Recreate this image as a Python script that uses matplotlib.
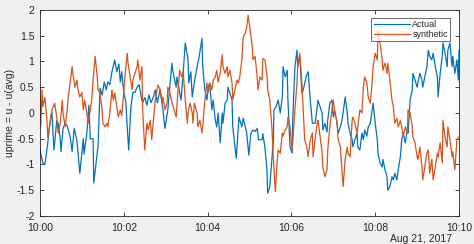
import matplotlib.pyplot as plt

# seconds after 10:00 and values
t_actual = [0, 1, 4, 7, 11, 14, 17, 20, 24, 26, 29, 30, 33, 36, 39, 43, 46, 49, 53, 57,
            62, 63, 67, 70, 72, 76, 77, 83, 84, 86, 89, 92, 95, 97, 100, 103, 107, 110, 113, 115,
            117, 120, 123, 125, 127, 130, 133, 136, 139, 142, 145, 147, 150, 153, 156, 159, 162, 165, 168, 172,
            176, 179, 183, 186, 189, 190, 195, 196, 198, 202, 205, 208, 212, 213, 216, 218, 221, 225, 228, 232,
            233, 236, 239, 241, 243, 246, 248, 251, 253, 255, 258, 261, 262, 265, 268, 269, 272, 275, 276, 281,
            284, 285, 289, 291, 294, 296, 299, 302, 305, 308, 311, 313, 318, 319, 322, 325, 326, 329, 332, 334,
            335, 338, 341, 344, 347, 348, 351, 354, 355, 358, 361, 362, 365, 368, 369, 372, 375, 377, 381, 384,
            387, 390, 394, 397, 398, 401, 404, 405, 408, 411, 412, 415, 418, 420, 422, 425, 427, 430, 432, 434,
            437, 440, 441, 444, 447, 448, 451, 454, 455, 458, 461, 463, 465, 468, 470, 473, 475, 477, 480, 483,
            484, 487, 490, 491, 494, 497, 498, 501, 504, 506, 508, 511, 513, 516, 518, 520, 523, 526, 527, 530,
            533, 534, 537, 540, 541, 544, 547, 548, 551, 554, 556, 558, 561, 563, 566, 569, 570, 573, 576, 577,
            580, 583, 584, 587, 590, 591, 594, 597, 599, 600]
v_actual = [-0.68, -0.78, -0.97, -1.0, -0.6, -0.2, 0.02, -0.72, -0.15, -0.2, -0.5, -0.75, -0.3, -0.2, -0.25, -0.45, -0.75, -0.3, -0.55, -1.17,
            -0.5, -0.8, -0.4, 0.15, -0.5, -0.5, -1.36, -0.65, -0.3, 0.48, 0.35, 0.6, 0.45, 0.6, 0.55, 0.8, 1.03, 0.8, 0.95, 0.6,
            0.8, 0.4, 0.2, -0.3, -0.72, 0.1, 0.4, 0.4, 0.5, 0.55, 0.3, 0.2, 0.3, 0.15, 0.35, 0.2, 0.3, 0.45, 0.2, 0.45,
            0.06, -0.3, 0.06, 0.54, 0.97, 0.83, 0.5, 0.7, 0.55, 0.25, 0.77, 1.36, 1.03, 0.58, 0.8, 0.31, 0.6, 0.9, 1.1, 1.45,
            0.9, 0.45, 0.25, 0.5, 0.58, 0.06, 0.25, -0.14, -0.27, 0.0, -0.58, 0.0, -0.2, 0.19, 0.25, 0.5, 0.38, 0.25, -0.27, -0.88,
            -0.27, -0.08, -0.27, -0.1, -0.27, -0.39, -0.82, -0.39, -0.33, -0.36, -0.3, -0.52, -0.52, -0.4, -0.66, -1.1, -1.56, -1.43, -0.9, -0.58,
            0.06, 0.12, 0.25, 0.0, 0.31, 0.9, 0.7, 0.83, 0.25, -0.66, -0.78, -0.08, 0.9, 1.22, 0.9, 1.1, 0.39, 0.45, 0.7, 0.8,
            0.25, -0.2, -0.2, 0.12, 0.25, 0.12, 0.0, -0.33, -0.2, -0.37, -0.14, 0.19, 0.25, -0.08, 0.05, -0.17, -0.39, -0.27, -0.17, 0.0,
            0.31, 0.0, -0.2, -0.39, -0.52, -0.66, -0.52, -0.39, -0.66, -0.72, -0.39, -0.52, -0.33, -0.45, -0.27, -0.2, 0.0, 0.19, -0.2, -0.52,
            -0.78, -0.97, -1.05, -0.9, -1.1, -1.24, -1.5, -1.43, -1.24, -1.3, -1.17, -1.3, -1.1, -0.85, -0.52, -0.39, -0.58, -0.33, -0.39, 0.25,
            0.45, 0.77, 0.64, 0.5, 0.58, 0.77, 0.64, 0.5, 0.7, 0.9, 1.22, 1.1, 1.03, 1.16, 0.9, 0.7, 0.31, 0.77, 1.1, 1.36,
            1.16, 0.9, 1.22, 1.36, 0.9, 1.1, 0.77, 1.03, 0.64, 1.22]

t_synth = [0, 1, 3, 4, 7, 10, 11, 14, 17, 19, 21, 24, 26, 29, 32, 33, 36, 39, 40, 43,
           46, 47, 50, 53, 54, 57, 60, 62, 64, 67, 69, 72, 74, 76, 79, 82, 83, 86, 89, 90,
           93, 96, 97, 100, 103, 105, 107, 110, 112, 115, 117, 119, 122, 125, 126, 129, 132, 133, 136, 139,
           140, 143, 146, 147, 150, 153, 155, 158, 160, 165, 168, 169, 172, 175, 176, 179, 182, 183, 186, 189,
           192, 195, 198, 200, 203, 205, 208, 211, 212, 215, 218, 219, 221, 225, 226, 229, 232, 233, 236, 239,
           241, 243, 246, 248, 251, 253, 255, 258, 261, 262, 265, 268, 269, 272, 275, 276, 279, 282, 284, 286,
           289, 291, 294, 296, 298, 301, 304, 305, 308, 311, 312, 315, 318, 319, 322, 325, 326, 329, 332, 334,
           337, 339, 341, 344, 347, 348, 351, 354, 355, 358, 361, 362, 365, 368, 369, 372, 375, 379, 382, 384,
           387, 390, 391, 394, 397, 398, 401, 404, 405, 408, 411, 412, 415, 418, 420, 422, 425, 427, 430, 432,
           434, 437, 440, 441, 444, 447, 448, 451, 454, 455, 458, 461, 463, 465, 468, 470, 473, 475, 477, 480,
           483, 484, 487, 490, 491, 494, 497, 498, 501, 504, 506, 508, 511, 513, 516, 518, 520, 523, 526, 527,
           530, 533, 534, 537, 540, 541, 544, 547, 548, 551, 554, 556, 558, 561, 563, 566, 569, 570, 573, 576,
           577, 580, 583, 584, 587, 590, 591, 594, 597, 599]
v_synth = [0.45, -0.27, 0.45, 0.12, 0.3, -0.14, -0.47, -0.25, 0.06, 0.12, 0.19, -0.08, -0.39, -0.2, 0.25, 0.0, -0.27, 0.06, 0.25, 0.58,
           0.9, 0.77, 0.5, 0.64, 0.48, 0.31, 0.4, 0.06, 0.25, 0.0, -0.2, 0.06, 0.25, 0.64, 1.1, 0.7, 0.45, 0.39, 0.06, -0.2,
           -0.27, -0.2, -0.27, 0.0, 0.45, 0.25, 0.39, 0.12, -0.08, 0.06, -0.05, 0.25, 0.77, 1.16, 0.97, 0.7, 0.45, 0.64, 0.77, 0.9,
           1.03, 0.64, 0.9, 0.06, -0.72, -0.2, -0.33, -0.14, -0.52, 0.25, 0.48, 0.54, 0.45, 0.2, 0.31, 0.06, 0.2, 0.5, 0.39, 0.2,
           0.06, -0.08, 0.5, 0.83, 0.7, 0.8, 0.25, -0.2, 0.0, 0.19, 0.0, -0.2, 0.19, 0.0, -0.27, -0.14, -0.39, -0.27, 0.25, 0.58,
           0.4, 0.58, 0.45, 0.64, 0.7, 0.83, 0.6, 0.77, 1.13, 0.9, 0.77, 0.9, 0.7, 0.83, 0.58, 0.25, 0.45, 0.64, 0.58, 0.7,
           1.03, 1.48, 1.55, 1.67, 1.9, 1.6, 1.28, 1.03, 1.1, 0.7, 0.45, 0.7, 0.64, 1.06, 1.03, 0.74, 0.45, 0.25, -0.27, -0.85,
           -1.53, -1.05, -0.72, -0.78, -0.39, -0.45, -0.33, -0.27, -0.08, -0.27, -0.72, -0.52, 0.06, 0.58, 0.9, 1.16, 0.58, -0.52, -0.66, -0.85,
           -0.52, -0.39, -0.85, -0.5, -0.2, -0.14, -0.45, -0.78, -1.05, -1.24, -1.1, -0.72, -0.27, 0.06, 0.25, 0.0, -0.14, -0.52, -0.66, -1.05,
           -1.43, -0.9, -0.66, -0.78, -0.85, -0.14, -0.08, -0.2, -0.39, -0.27, 0.06, 0.0, 0.5, 0.7, 0.58, 0.31, 0.19, 0.5, 0.9, 1.16,
           1.03, 1.61, 1.36, 1.03, 0.83, 0.97, 0.77, 0.97, 0.64, 0.25, 0.12, -0.2, -0.1, -0.27, -0.15, -0.27, -0.47, -0.27, -0.39, 0.06,
           0.0, -0.27, -0.47, -0.58, -0.85, -0.9, -0.66, -1.05, -1.3, -1.05, -0.78, -0.72, -1.17, -0.9, -1.3, -1.05, -0.78, -0.85, -0.58, -0.97,
           -0.14, -0.47, -0.66, -0.27, -0.52, -0.85, -0.75, -1.1, -0.52, -0.47]

tick_seconds = [0, 120, 240, 360, 480, 600]
tick_labels = ['10:00', '10:02', '10:04', '10:06', '10:08', '10:10']
y_ticks = [-2, -1.5, -1, -0.5, 0, 0.5, 1, 1.5, 2]

plt.rcParams['font.family'] = ['Liberation Sans', 'DejaVu Sans']
txt = '#262626'

fig = plt.figure(figsize=(4.74, 2.44), dpi=100, facecolor='#f0f0f0')
ax = fig.add_axes([0.0844, 0.115, 0.8840, 0.844])

ax.plot(t_actual, v_actual, color='#0072BD', lw=0.9, label='Actual')
ax.plot(t_synth, v_synth, color='#D95319', lw=0.9, label='synthetic')

ax.set_xlim(0, 600)
ax.set_ylim(-2, 2)
ax.set_xticks(tick_seconds)
ax.set_xticklabels(tick_labels)
ax.set_yticks(y_ticks)
ax.set_yticklabels(['-2', '-1.5', '-1', '-0.5', '0', '0.5', '1', '1.5', '2'])
ax.tick_params(direction='in', length=3, width=0.6, top=True, right=True,
               labelsize=7.5, colors=txt)
ax.tick_params(axis='x', pad=5)
ax.tick_params(axis='y', pad=4)
for s in ax.spines.values():
    s.set_color(txt)
    s.set_linewidth(0.6)

ax.set_ylabel('uprime = u - u(avg)', fontsize=7.5, color=txt, labelpad=1)
fig.text(0.953, 0.022, 'Aug 21, 2017', ha='right', va='center',
         fontsize=7.5, color=txt)

leg = ax.legend(loc='upper right', fontsize=6.5, frameon=True, fancybox=False,
                borderpad=0.25, handlelength=4.0, handletextpad=0.3, labelspacing=0.05,
                borderaxespad=0, bbox_to_anchor=(0.979, 0.96))
leg.get_frame().set_edgecolor(txt)
leg.get_frame().set_linewidth(0.6)
for t in leg.get_texts():
    t.set_color(txt)

plt.savefig('out.png', dpi=100, facecolor=fig.get_facecolor())
